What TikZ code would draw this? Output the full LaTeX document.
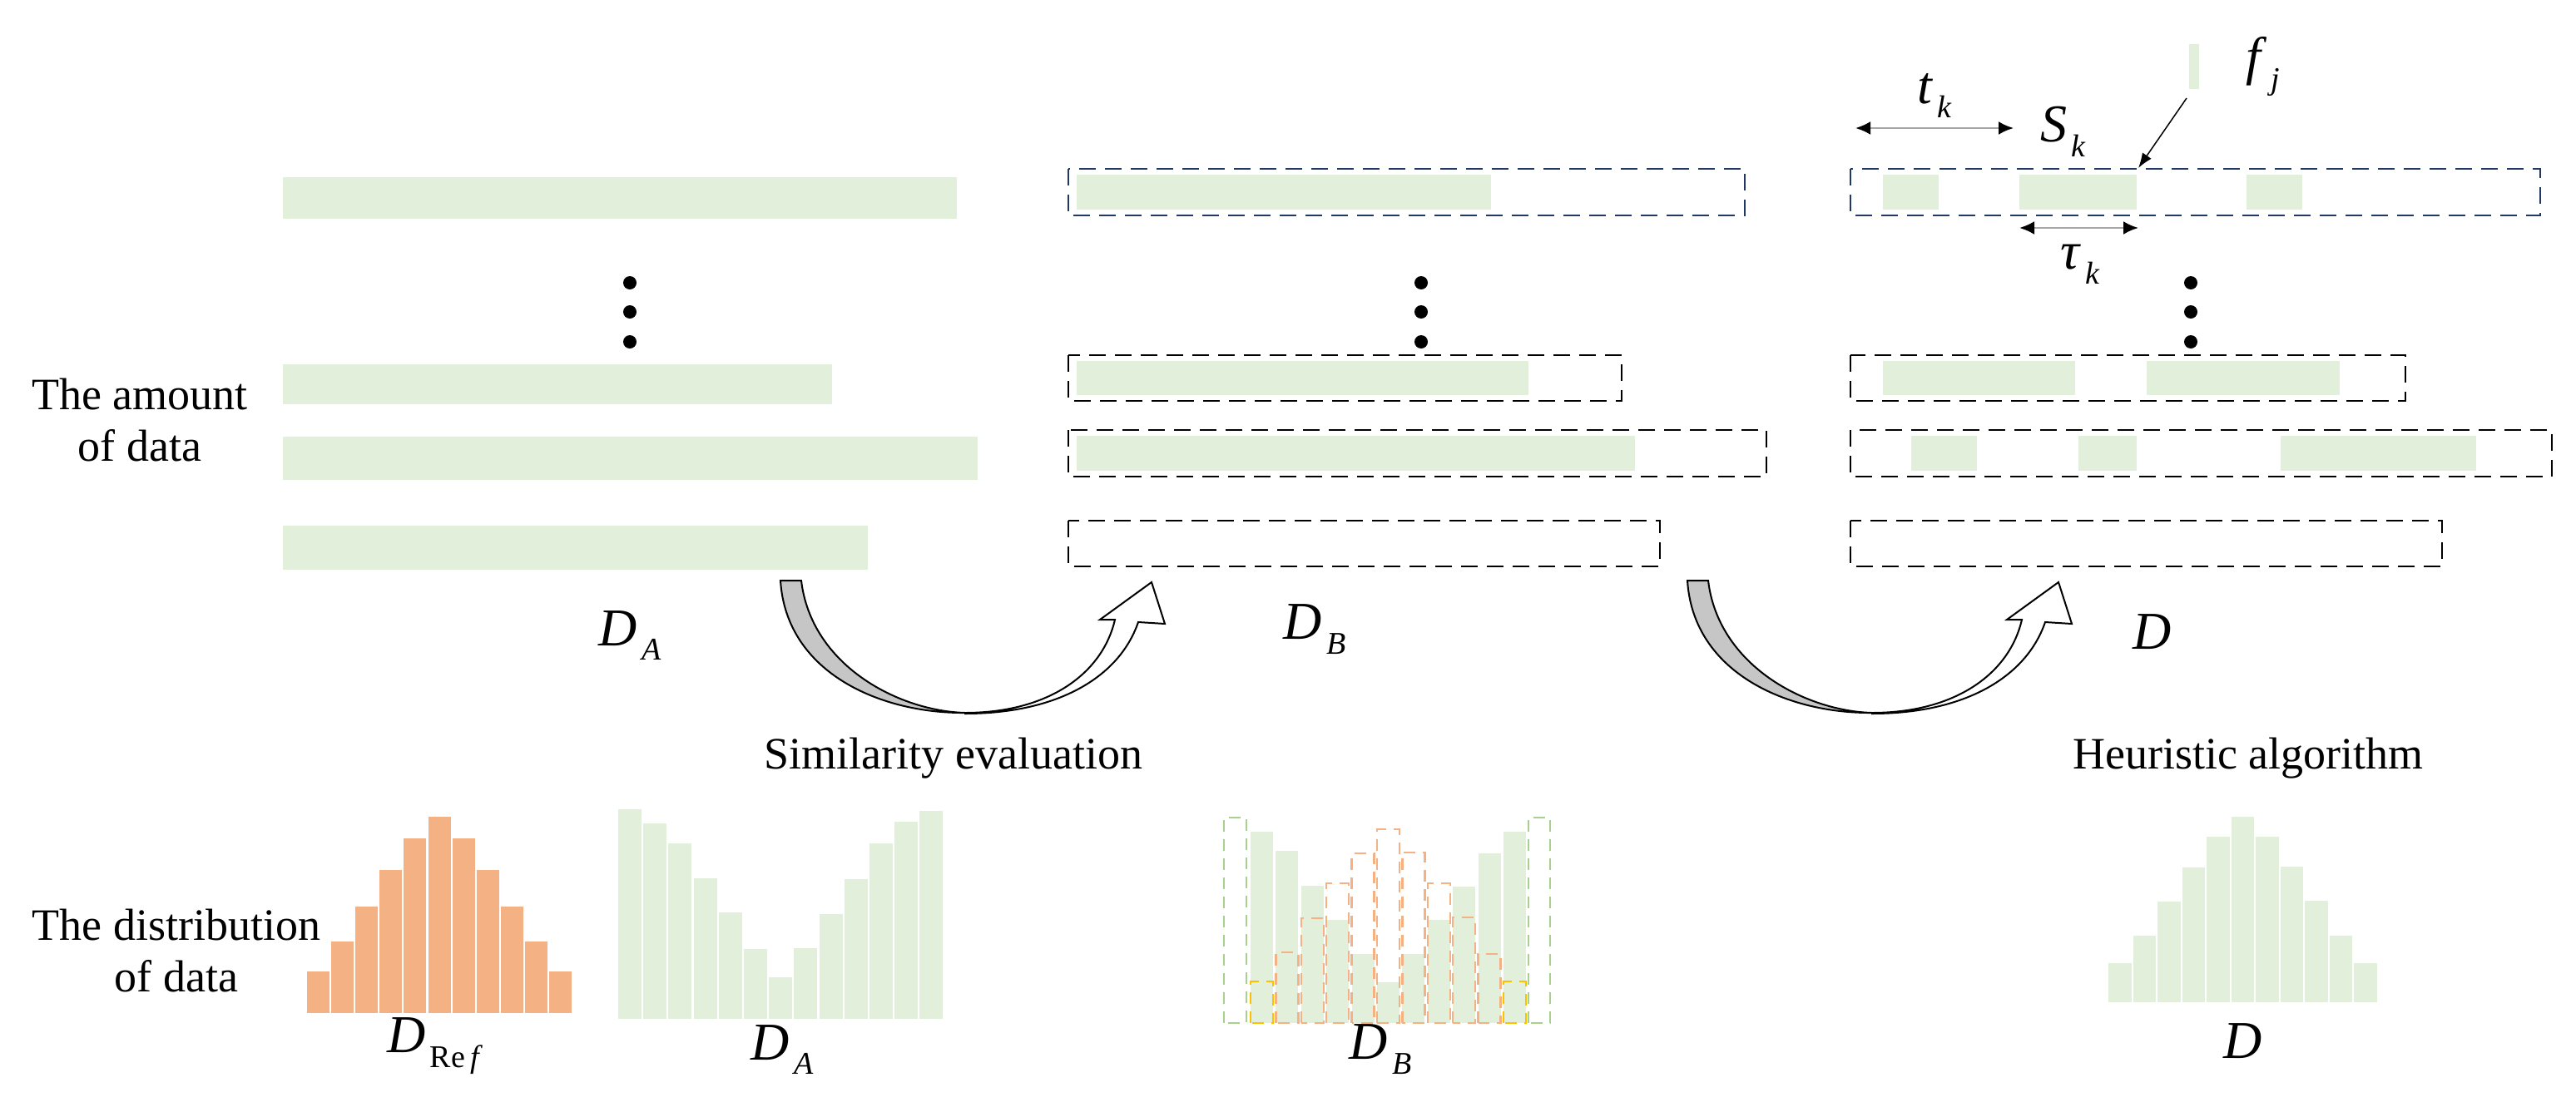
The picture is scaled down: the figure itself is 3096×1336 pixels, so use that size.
\documentclass[tikz,border=0pt]{standalone}
\usepackage{fontspec}
\setmainfont{Liberation Serif}
\usetikzlibrary{arrows.meta}
\definecolor{lg}{HTML}{E2EFDA}
\definecolor{org}{HTML}{F4B183}
\definecolor{navy}{HTML}{1F3864}
\definecolor{dgreen}{HTML}{A9D18E}
\definecolor{ylw}{HTML}{FFC000}
\newcommand{\lbl}[2]{\fontsize{64}{70}\selectfont\textit{#1}\kern0.08em\raisebox{-0.28em}{\fontsize{38}{40}\selectfont #2}}
\begin{document}
\begin{tikzpicture}[x=1pt,y=-1pt,
  bar/.style={fill=lg,draw=none},
  dbox/.style={draw=black,line width=2.5pt,dash pattern=on 20pt off 11pt},
  nbox/.style={draw=navy,line width=2.5pt,dash pattern=on 20pt off 11pt},
  txt/.style={font=\fontsize{54}{62}\selectfont,align=center},
  dotc/.style={fill=black,circle,inner sep=0pt,minimum size=16pt},
  dim/.style={draw=gray!70,line width=2.5pt,{Latex[black,length=18pt,width=16pt]}-{Latex[black,length=18pt,width=16pt]}}]
\useasboundingbox (0,0) rectangle (3096,1336);
% left bars D_A
\fill[lg] (340,213) rectangle (1150,263);
\fill[lg] (340,438) rectangle (1000,486);
\fill[lg] (340,525) rectangle (1175,577);
\fill[lg] (340,632) rectangle (1043,685);
\foreach \y in {340,375,411}{\node[dotc] at (757,\y) {};}
\node (DA) at (757,764) {\lbl{D}{\textit{A}}};
% middle D_B
\fill[lg] (1294,210) rectangle (1792,252);
\draw[nbox] (1284,203) rectangle (2097,259);
\fill[lg] (1294,434) rectangle (1837,475);
\draw[dbox] (1284,427) rectangle (1949,482);
\fill[lg] (1294,524) rectangle (1965,566);
\draw[dbox] (1284,517) rectangle (2123,573);
\draw[dbox] (1284,626) rectangle (1995,681);
\foreach \y in {340,375,411}{\node[dotc] at (1708,\y) {};}
\node (DB) at (1580,757) {\lbl{D}{\textit{B}}};
% right D
\foreach \a/\b in {2263/2330,2427/2568,2700/2767}{\fill[lg] (\a,210) rectangle (\b,252);}
\draw[nbox] (2224,203) rectangle (3053,259);
\foreach \a/\b in {2263/2494,2580/2812}{\fill[lg] (\a,434) rectangle (\b,475);}
\draw[dbox] (2224,427) rectangle (2891,482);
\foreach \a/\b in {2297/2376,2498/2568,2741/2976}{\fill[lg] (\a,524) rectangle (\b,566);}
\draw[dbox] (2224,517) rectangle (3067,573);
\draw[dbox] (2224,626) rectangle (2935,681);
\foreach \y in {340,375,411}{\node[dotc] at (2633,\y) {};}
\node (D) at (2587,760) {\fontsize{64}{70}\selectfont\textit{D}};
% annotations
\coordinate (t1) at (2230,154); \coordinate (t2) at (2420,154);
\draw[dim] (t1) -- (t2);
\node (tk) at (2325,115) {\lbl{t}{\textit{k}}};
\node (Sk) at (2480,158) {\lbl{S}{\textit{k}}};
\coordinate (u1) at (2427,274); \coordinate (u2) at (2570,274);
\draw[dim] (u1) -- (u2);
\node (tauk) at (2500,318) {\lbl{τ}{\textit{k}}};
\fill[lg] (2631,53) rectangle (2643,107);
\node (fj) at (2720,80) {\lbl{f}{\textit{j}}};
\coordinate (fa) at (2628,118); \coordinate (fb) at (2570,202);
\draw[line width=1.5pt,-{Latex[length=18pt,width=13pt]}] (fa) -- (fb);
% curved arrows
\foreach \dx in {0,1090}{
\begin{scope}[xshift=\dx]
\filldraw[fill=gray!45,draw=black,line width=2pt] (938,698) -- (963,698) .. controls (975,800) and (1080,855) .. (1160,857) .. controls (1060,858) and (945,810) .. (938,698) -- cycle;
\filldraw[fill=white,draw=black,line width=2pt] (1160,857) .. controls (1260,857) and (1325,810) .. (1340,745) -- (1322,745) -- (1384,700) -- (1400,750) -- (1368,748) .. controls (1345,815) and (1270,858) .. (1160,858) -- cycle;
\end{scope}}
\node[txt] (sim) at (1146,912) {Similarity evaluation};
\node[txt] (heu) at (2702,912) {Heuristic algorithm};
\node[txt] (amt) at (168,505) {The amount\\of data};
\node[txt] (dist) at (212,1143) {The distribution\\of data};
% histograms
\foreach \h [count=\i from 0] in {50,86,128,172,210,236,210,172,128,86,50}{
  \fill[org] (369+\i*29.1,1218-\h) rectangle ++(27,\h);}
\node (DRef) at (523,1258) {\lbl{D}{Re\,\textit{f}}};
\foreach \h [count=\i from 0] in {252,235,211,169,128,84,50,85,126,168,211,237,250}{
  \fill[lg] (743+\i*30.2,1225-\h) rectangle ++(28,\h);}
\node (DA2) at (940,1262) {\lbl{D}{\textit{A}}};
\foreach \h [count=\i from 0] in {47,80,121,162,199,223,199,163,122,80,47}{
  \fill[lg] (2534+\i*29.5,1205-\h) rectangle ++(27.5,\h);}
\node (D2) at (2696,1252) {\fontsize{64}{70}\selectfont\textit{D}};
% D_B histogram
\foreach \h [count=\i from 0] in {230,207,165,124,83,49,83,124,164,204,230}{
  \fill[lg] (1503+\i*30.4,1230-\h) rectangle ++(27,\h);}
\begin{scope}[line width=2.5pt,dash pattern=on 14pt off 9pt]
\draw[dgreen] (1471,1230) rectangle (1498,983);
\draw[dgreen] (1837,1230) rectangle (1863,983);
\foreach \t [count=\i from 1] in {1145,1104,1062,1026,997,1025,1062,1103,1147}{
  \draw[org] (1503+\i*30.4,1230) rectangle (1530+\i*30.4,\t);}
\draw[ylw] (1503,1230) rectangle (1530,1180);
\draw[ylw] (1807,1230) rectangle (1834,1180);
\end{scope}
\node (DB2) at (1659,1262) {\lbl{D}{\textit{B}}};
\end{tikzpicture}
\end{document}
